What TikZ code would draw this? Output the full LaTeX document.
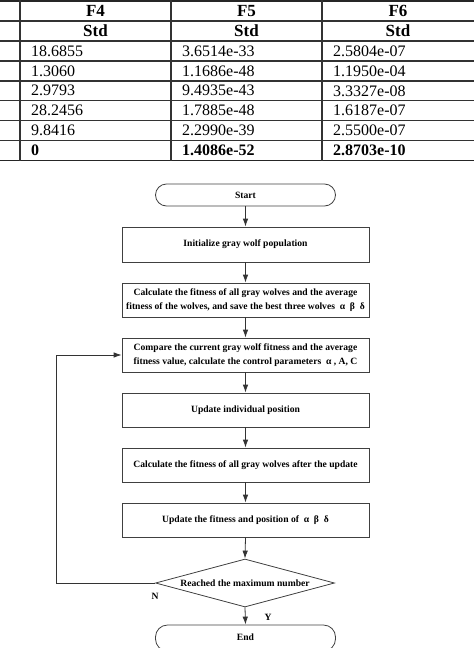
\documentclass[tikz,border=0pt]{standalone}
\usepackage{fontspec}
\setmainfont{Liberation Serif}
\usetikzlibrary{shapes.geometric,arrows.meta}
\begin{document}
\begin{tikzpicture}[x=1pt,y=-1pt,
  tline/.style={draw=black!80,line width=1.1pt},
  hdr/.style={font=\fontsize{17}{17}\selectfont\bfseries,inner sep=0pt},
  cell/.style={font=\fontsize{16}{16}\selectfont,inner sep=0pt,anchor=west},
  bcell/.style={cell,font=\fontsize{16}{16}\selectfont\bfseries},
  fbox/.style={draw=black!75,line width=0.8pt,minimum width=247pt,minimum height=34pt,inner sep=0pt,
    font=\fontsize{9.6}{13.5}\selectfont\bfseries,align=center},
  term/.style={draw=black!75,line width=0.8pt,minimum width=180pt,minimum height=22pt,inner sep=0pt,
    rounded corners=11pt,font=\fontsize{9.6}{12}\selectfont\bfseries},
  dec/.style={draw=black!75,line width=0.8pt,shape=diamond,minimum width=179pt,minimum height=48pt,
    inner sep=0pt},
  arr/.style={draw=black!80,line width=0.8pt,-{Latex[length=8pt,width=5.5pt]}},
  lbl/.style={font=\fontsize{9.6}{12}\selectfont\bfseries,inner sep=0pt}]
\useasboundingbox (0,0) rectangle (474,648);
% ---------- table ----------
\draw[draw=black!85,line width=2pt] (0,1) -- (474,1);
\foreach \y in {21,41,61,81,100.5,120.5,140.5} \draw[tline] (0,\y) -- (474,\y);
\draw[draw=black!85,line width=1.5pt] (0,160.5) -- (474,160.5);
\foreach \x in {20,171,322} \draw[tline] (\x,0) -- (\x,160.5);
\node[hdr] (h1) at (95.5,11) {F4};
\node[hdr] (h2) at (246.5,11) {F5};
\node[hdr] (h3) at (398,11) {F6};
\node[hdr] (s1) at (95.5,31) {Std};
\node[hdr] (s2) at (246.5,31) {Std};
\node[hdr] (s3) at (398,31) {Std};
\node[cell] (a1) at (31,51) {18.6855};
\node[cell] (a2) at (31,71) {1.3060};
\node[cell] (a3) at (31,90.8) {2.9793};
\node[cell] (a4) at (31,110.5) {28.2456};
\node[cell] (a5) at (31,130.5) {9.8416};
\node[bcell] (a6) at (31,150.5) {0};
\node[cell] (b1c) at (182,51) {3.6514e-33};
\node[cell] (b2c) at (182,71) {1.1686e-48};
\node[cell] (b3c) at (182,90.8) {9.4935e-43};
\node[cell] (b4c) at (182,110.5) {1.7885e-48};
\node[cell] (b5c) at (182,130.5) {2.2990e-39};
\node[bcell] (b6c) at (182,150.5) {1.4086e-52};
\node[cell] (c1) at (333,51) {2.5804e-07};
\node[cell] (c2) at (333,71) {1.1950e-04};
\node[cell] (c3) at (333,90.8) {3.3327e-08};
\node[cell] (c4) at (333,110.5) {1.6187e-07};
\node[cell] (c5) at (333,130.5) {2.5500e-07};
\node[bcell] (c6) at (333,150.5) {2.8703e-10};
% ---------- flowchart ----------
\node[term] (start) at (245.5,195) {Start};
\node[fbox,minimum height=35pt] (n1) at (245.5,244.5) {Initialize gray wolf population};
\node[fbox] (n2) at (245.5,300) {Calculate the fitness of all gray wolves and the average\\fitness of the wolves, and save the best three wolves \ α\ \ β\ \ δ};
\node[fbox] (n3) at (245.5,355) {Compare the current gray wolf fitness and the average\\fitness value, calculate the control parameters \ α\ ,\ A,\ C};
\node[fbox] (n4) at (245.5,410) {Update individual position};
\node[fbox] (n5) at (245.5,465) {Calculate the fitness of all gray wolves after the update};
\node[fbox] (n6) at (245.5,520) {Update the fitness and position of \ α\ \ β\ \ δ};
\node[dec,label={[lbl]center:Reached the maximum number}] (dia) at (245,583) {};
\node[term,minimum height=26pt,rounded corners=12pt,text depth=0pt] (end) at (245.5,638) {\raisebox{2pt}{End}};
\coordinate (lp) at (56,583);
\draw[arr] (start) -- (n1);
\draw[arr] (n1) -- (n2);
\draw[arr] (n2) -- (n3);
\draw[arr] (n3) -- (n4);
\draw[arr] (n4) -- (n5);
\draw[arr] (n5) -- (n6);
\draw[arr] (n6.south) -- (dia.north);
\draw[arr] (dia.south) -- (end.north);
\draw[arr] (dia.west) -- (lp) |- (n3.west);
\node[lbl] (nl) at (155,596) {N};
\node[lbl] (yl) at (268,617) {Y};
\end{tikzpicture}
\end{document}
